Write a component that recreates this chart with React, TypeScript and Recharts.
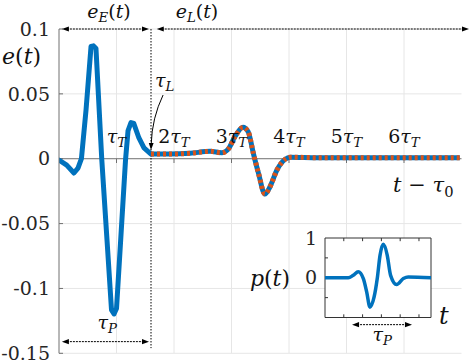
import React from 'react';
import { LineChart, Line, XAxis, YAxis, ReferenceLine, ReferenceDot, ReferenceArea } from 'recharts';

const FONT = "'DejaVu Serif', 'Liberation Serif', 'Times New Roman', serif";
const BLUE = '#0072BD';
const ORANGE = '#D95319';
const GRID = '#e6e6e6';
const AXIS = '#707070';

// ---- main axes ----
const yTicks = [-0.15, -0.1, -0.05, 0, 0.05, 0.1];
const yTickLabels = ['-0.15', '-0.1', '-0.05', '0', '0.05', '0.1'];
const xTicks = [1, 2, 3, 4, 5, 6];
const xTickLabels = ['τ_T', '2τ_T', '3τ_T', '4τ_T', '5τ_T', '6τ_T'];
const xDomain = [0, 7];
const yDomain = [-0.15, 0.1];

// ---- e_E(t) : early part (solid blue) ----
const eETime = [0, 0.134, 0.26, 0.33, 0.39, 0.47, 0.557, 0.6, 0.643, 0.743, 0.835, 0.913, 0.957, 1.0, 1.078, 1.157, 1.2, 1.252, 1.3, 1.39, 1.478, 1.6];
const eEValue = [-0.001, -0.0049, -0.011, -0.0072, 0, 0.0375, 0.0865, 0.087, 0.085, 0, -0.0627, -0.1165, -0.1197, -0.1155, -0.0588, -0.001, 0.0214, 0.0279, 0.0272, 0.016, 0.0083, 0.0036];

// ---- e_L(t) : late part (blue/orange dashed) ----
const eLTime = [1.6, 1.93, 2.28, 2.63, 2.83, 2.94, 3.06, 3.2, 3.29, 3.38, 3.47, 3.58, 3.67, 3.79, 3.93, 4.02, 4.5, 5.5, 6.97];
const eLValue = [0.0036, 0.0036, 0.0042, 0.0057, 0.0046, 0.0072, 0.017, 0.0242, 0.0208, 0.0042, -0.0113, -0.0272, -0.0216, -0.0087, -0.0005, 0.0012, 0.0008, 0.0008, 0.0008];

// ---- inset p(t) ----
const pTime = [0, 1.24, 1.5, 1.77, 2.04, 2.22, 2.39, 2.61, 2.78, 2.93, 3.1, 3.31, 3.49, 3.81, 4.17, 4.43, 5.64];
const pValue = [0, 0, 0.06, 0.15, -0.02, -0.36, -0.74, -0.49, -0.02, 0.57, 0.84, 0.57, 0.06, -0.17, -0.02, 0.02, 0];
const insetXDomain = [0, 5.64];
const insetYDomain = [-1, 1];
const insetYTicks = [0, 1];
const insetYTickLabels = ['0', '1'];
const insetXTickMarks = [1, 2, 3, 4, 5];
const insetYTickMarks = [-0.5, 0, 0.5];

// ---- annotation positions (data units) ----
const tauL = 1.6;
const mainLabels = [
  { text: 'e(t)', x: -0.99, y: 0.073, size: 22, anchor: 'start' },
  { text: 'e_E(t)', x: 0.87, y: 0.1085, size: 19, anchor: 'middle' },
  { text: 'e_L(t)', x: 2.4, y: 0.1085, size: 19, anchor: 'middle' },
  { text: 'τ_L', x: 1.67, y: 0.0553, size: 19, anchor: 'start' },
  { text: 't − τ_0', x: 5.81, y: -0.0257, size: 21, anchor: 'start' },
  { text: 'τ_P', x: 0.84, y: -0.1313, size: 19, anchor: 'middle' },
];
const tickLabelY = 0.0121;
const spanArrows = [
  { x1: 0.05, y1: 0.1, x2: 1.565, y2: 0.1 },
  { x1: 1.7, y1: 0.1, x2: 7.13, y2: 0.1 },
  { x1: 0.05, y1: -0.141, x2: 1.565, y2: -0.141 },
];
const tauLLine = { y1: 0.1, y2: -0.146 };
const tauLPointer = { x1: 1.81, y1: 0.0491, x2: 1.6, y2: 0.0067 };

const insetLabels = [
  { text: 'p(t)', x: -1.86, y: -0.215, size: 22, anchor: 'end' },
  { text: 't', x: 6.06, y: -1.152, size: 24, anchor: 'start' },
  { text: 'τ_P', x: 3.04, y: -1.58, size: 19, anchor: 'middle' },
];
const insetArrow = { x1: 1.44, y1: -1.18, x2: 4.63, y2: -1.18 };

const eEData = eETime.map((x, i) => ({ x, v: eEValue[i] }));
const eLData = eLTime.map((x, i) => ({ x, v: eLValue[i] }));
const pData = pTime.map((x, i) => ({ x, v: pValue[i] }));

type Tok = { t: string; i: boolean; sub: boolean };
function parseMath(s: string): Tok[] {
  const toks: Tok[] = [];
  for (let k = 0; k < s.length; k++) {
    let c = s[k];
    let sub = false;
    if (c === '_') {
      sub = true;
      k++;
      c = s[k];
    }
    const italic = /[A-Za-zα-ω]/.test(c);
    toks.push({ t: c, i: italic, sub });
  }
  return toks;
}

function MathText(props: any) {
  const { viewBox, text, size, anchor } = props;
  const x = viewBox.x + (viewBox.width || 0) / 2;
  const y = viewBox.y + (viewBox.height || 0) / 2;
  const toks = parseMath(text);
  let inSub = false;
  const shift = size * 0.22;
  const children = toks.map((tk, k) => {
    let dy = 0;
    if (tk.sub && !inSub) dy = shift;
    if (!tk.sub && inSub) dy = -shift;
    inSub = tk.sub;
    return (
      <tspan key={k} dy={dy} fontStyle={tk.i ? 'italic' : 'normal'} fontSize={tk.sub ? size * 0.7 : size}>
        {tk.t}
      </tspan>
    );
  });
  return (
    <text x={x} y={y} textAnchor={anchor} fill="#111" fontFamily={FONT} style={{ whiteSpace: 'pre', fontFamily: FONT }}>
      {children}
    </text>
  );
}

function headPts(tx: number, ty: number, ux: number, uy: number, L = 7, W = 2.6) {
  const nx = -uy;
  const ny = ux;
  return `${tx},${ty} ${tx - ux * L + nx * W},${ty - uy * L + ny * W} ${tx - ux * L - nx * W},${ty - uy * L - ny * W}`;
}

const DoubleArrow = (p: any) => {
  const { x1, y1, x2, y2 } = p;
  const len = Math.hypot(x2 - x1, y2 - y1) || 1;
  const ux = (x2 - x1) / len;
  const uy = (y2 - y1) / len;
  return (
    <g>
      <line x1={x1 + ux * 5} y1={y1 + uy * 5} x2={x2 - ux * 5} y2={y2 - uy * 5} stroke="#000" strokeWidth={1} strokeDasharray="2 1" />
      <polygon points={headPts(x2, y2, ux, uy)} fill="#000" />
      <polygon points={headPts(x1, y1, -ux, -uy)} fill="#000" />
    </g>
  );
};

const DottedLine = (p: any) => {
  const { x1, y1, x2, y2 } = p;
  return <line x1={x1} y1={y1} x2={x2} y2={y2} stroke="#000" strokeWidth={1} strokeDasharray="1.5 1.5" />;
};

const CurvedArrow = (p: any) => {
  const { x1, y1, x2, y2 } = p;
  const cx = x2 + 1;
  const cy = y1 + 0.42 * (y2 - y1);
  const len = Math.hypot(x2 - cx, y2 - cy) || 1;
  const ux = (x2 - cx) / len;
  const uy = (y2 - cy) / len;
  const ex = x2 - ux * 6;
  const ey = y2 - uy * 6;
  return (
    <g>
      <path d={`M${x1},${y1} Q${cx},${cy} ${ex},${ey}`} fill="none" stroke="#000" strokeWidth={1} />
      <polygon points={headPts(x2, y2, ux, uy, 7, 2.4)} fill="#000" />
    </g>
  );
};

function label(key: string, a: { text: string; x: number; y: number; size: number; anchor: string }) {
  return (
    <ReferenceDot
      key={key}
      x={a.x}
      y={a.y}
      r={0}
      fill="none"
      stroke="none"
      ifOverflow="visible"
      zIndex={2000}
      label={<MathText text={a.text} size={a.size} anchor={a.anchor} />}
    />
  );
}

const tickStyle = { fontFamily: FONT, fontSize: 19, fill: '#262626', style: { fontFamily: FONT } };

function MainChart() {
  return (
    <LineChart width={474} height={361} margin={{ top: 29, right: 12.5, bottom: 7.7, left: 0 }}>
      <XAxis type="number" dataKey="x" domain={xDomain} allowDataOverflow hide />
      <YAxis
        type="number"
        domain={yDomain}
        ticks={yTicks}
        interval={0}
        width={59}
        tickFormatter={(v: number) => yTickLabels[yTicks.findIndex((t) => Math.abs(t - v) < 1e-9)]}
        tickSize={0}
        tickMargin={9}
        tickLine={false}
        axisLine={{ stroke: AXIS, strokeWidth: 1 }}
        tick={tickStyle}
      />
      {xTicks.map((t) => (
        <ReferenceLine key={`gx${t}`} x={t} stroke={GRID} strokeWidth={1} zIndex={-100} />
      ))}
      {yTicks.filter((t) => t !== 0).map((t) => (
        <ReferenceLine key={`gy${t}`} y={t} stroke={GRID} strokeWidth={1} zIndex={-100} />
      ))}
      <ReferenceLine y={0} stroke={AXIS} strokeWidth={1} zIndex={-90} />
      {xTicks.map((t) => (
        <ReferenceLine key={`tx${t}`} segment={[{ x: t, y: 0 }, { x: t, y: -0.0033 }]} stroke={AXIS} strokeWidth={1} zIndex={-90} />
      ))}
      {yTicks.map((t) => (
        <ReferenceLine key={`ty${t}`} segment={[{ x: 0, y: t }, { x: 0.07, y: t }]} stroke={AXIS} strokeWidth={1} zIndex={-90} />
      ))}
      <ReferenceLine
        segment={[{ x: tauL, y: tauLLine.y1 }, { x: tauL, y: tauLLine.y2 }]}
        ifOverflow="visible"
        shape={DottedLine}
        zIndex={-80}
      />
      <Line data={eEData} dataKey="v" type="linear" stroke={BLUE} strokeWidth={5} strokeLinejoin="round" strokeLinecap="round" dot={false} activeDot={false} isAnimationActive={false} />
      <Line data={eLData} dataKey="v" type="monotone" stroke={BLUE} strokeWidth={5} strokeLinejoin="round" dot={false} activeDot={false} isAnimationActive={false} />
      <Line data={eLData} dataKey="v" type="monotone" stroke={ORANGE} strokeWidth={5} strokeDasharray="3 3" dot={false} activeDot={false} isAnimationActive={false} />
      {spanArrows.map((a, k) => (
        <ReferenceLine key={`ar${k}`} segment={[{ x: a.x1, y: a.y1 }, { x: a.x2, y: a.y2 }]} ifOverflow="visible" shape={DoubleArrow} zIndex={1500} />
      ))}
      <ReferenceLine
        segment={[{ x: tauLPointer.x1, y: tauLPointer.y1 }, { x: tauLPointer.x2, y: tauLPointer.y2 }]}
        ifOverflow="visible"
        shape={CurvedArrow}
        zIndex={1500}
      />
      {mainLabels.map((a, k) => label(`ml${k}`, a))}
      {xTicks.map((t, k) => label(`xl${k}`, { text: xTickLabels[k], x: t, y: tickLabelY, size: 19, anchor: 'middle' }))}
    </LineChart>
  );
}

function InsetChart() {
  return (
    <LineChart width={230} height={136} margin={{ top: 13, right: 39, bottom: 43.5, left: 0 }}>
      <XAxis type="number" dataKey="x" domain={insetXDomain} allowDataOverflow hide />
      <YAxis
        type="number"
        domain={insetYDomain}
        ticks={insetYTicks}
        interval={0}
        width={85}
        tickFormatter={(v: number) => insetYTickLabels[insetYTicks.indexOf(v)]}
        tickSize={0}
        tickMargin={8}
        tickLine={false}
        axisLine={false}
        tick={{ ...tickStyle, fontSize: 19 }}
      />
      <ReferenceArea
        x1={insetXDomain[0]}
        x2={insetXDomain[1]}
        y1={insetYDomain[0]}
        y2={insetYDomain[1]}
        fill="#ffffff"
        fillOpacity={1}
        stroke="#333"
        strokeWidth={1}
        zIndex={-100}
      />
      {insetXTickMarks.map((t) => (
        <ReferenceLine key={`ixb${t}`} segment={[{ x: t, y: -1 }, { x: t, y: -0.92 }]} stroke="#333" strokeWidth={1} zIndex={-90} />
      ))}
      {insetXTickMarks.map((t) => (
        <ReferenceLine key={`ixt${t}`} segment={[{ x: t, y: 1 }, { x: t, y: 0.92 }]} stroke="#333" strokeWidth={1} zIndex={-90} />
      ))}
      {insetYTickMarks.map((t) => (
        <ReferenceLine key={`iy${t}`} segment={[{ x: 0, y: t }, { x: 0.16, y: t }]} stroke="#333" strokeWidth={1} zIndex={-90} />
      ))}
      <Line data={pData} dataKey="v" type="monotone" stroke={BLUE} strokeWidth={3.5} dot={false} activeDot={false} isAnimationActive={false} />
      <ReferenceLine
        segment={[{ x: insetArrow.x1, y: insetArrow.y1 }, { x: insetArrow.x2, y: insetArrow.y2 }]}
        ifOverflow="visible"
        shape={DoubleArrow}
        zIndex={1500}
      />
      {insetLabels.map((a, k) => label(`il${k}`, a))}
    </LineChart>
  );
}

export default function App() {
  return (
    <div style={{ position: 'absolute', left: 0, top: 0, width: 474, height: 361 }}>
      <div style={{ position: 'absolute', left: 0, top: 0 }}>
        <MainChart />
      </div>
      <div style={{ position: 'absolute', left: 240, top: 225 }}>
        <InsetChart />
      </div>
    </div>
  );
}
